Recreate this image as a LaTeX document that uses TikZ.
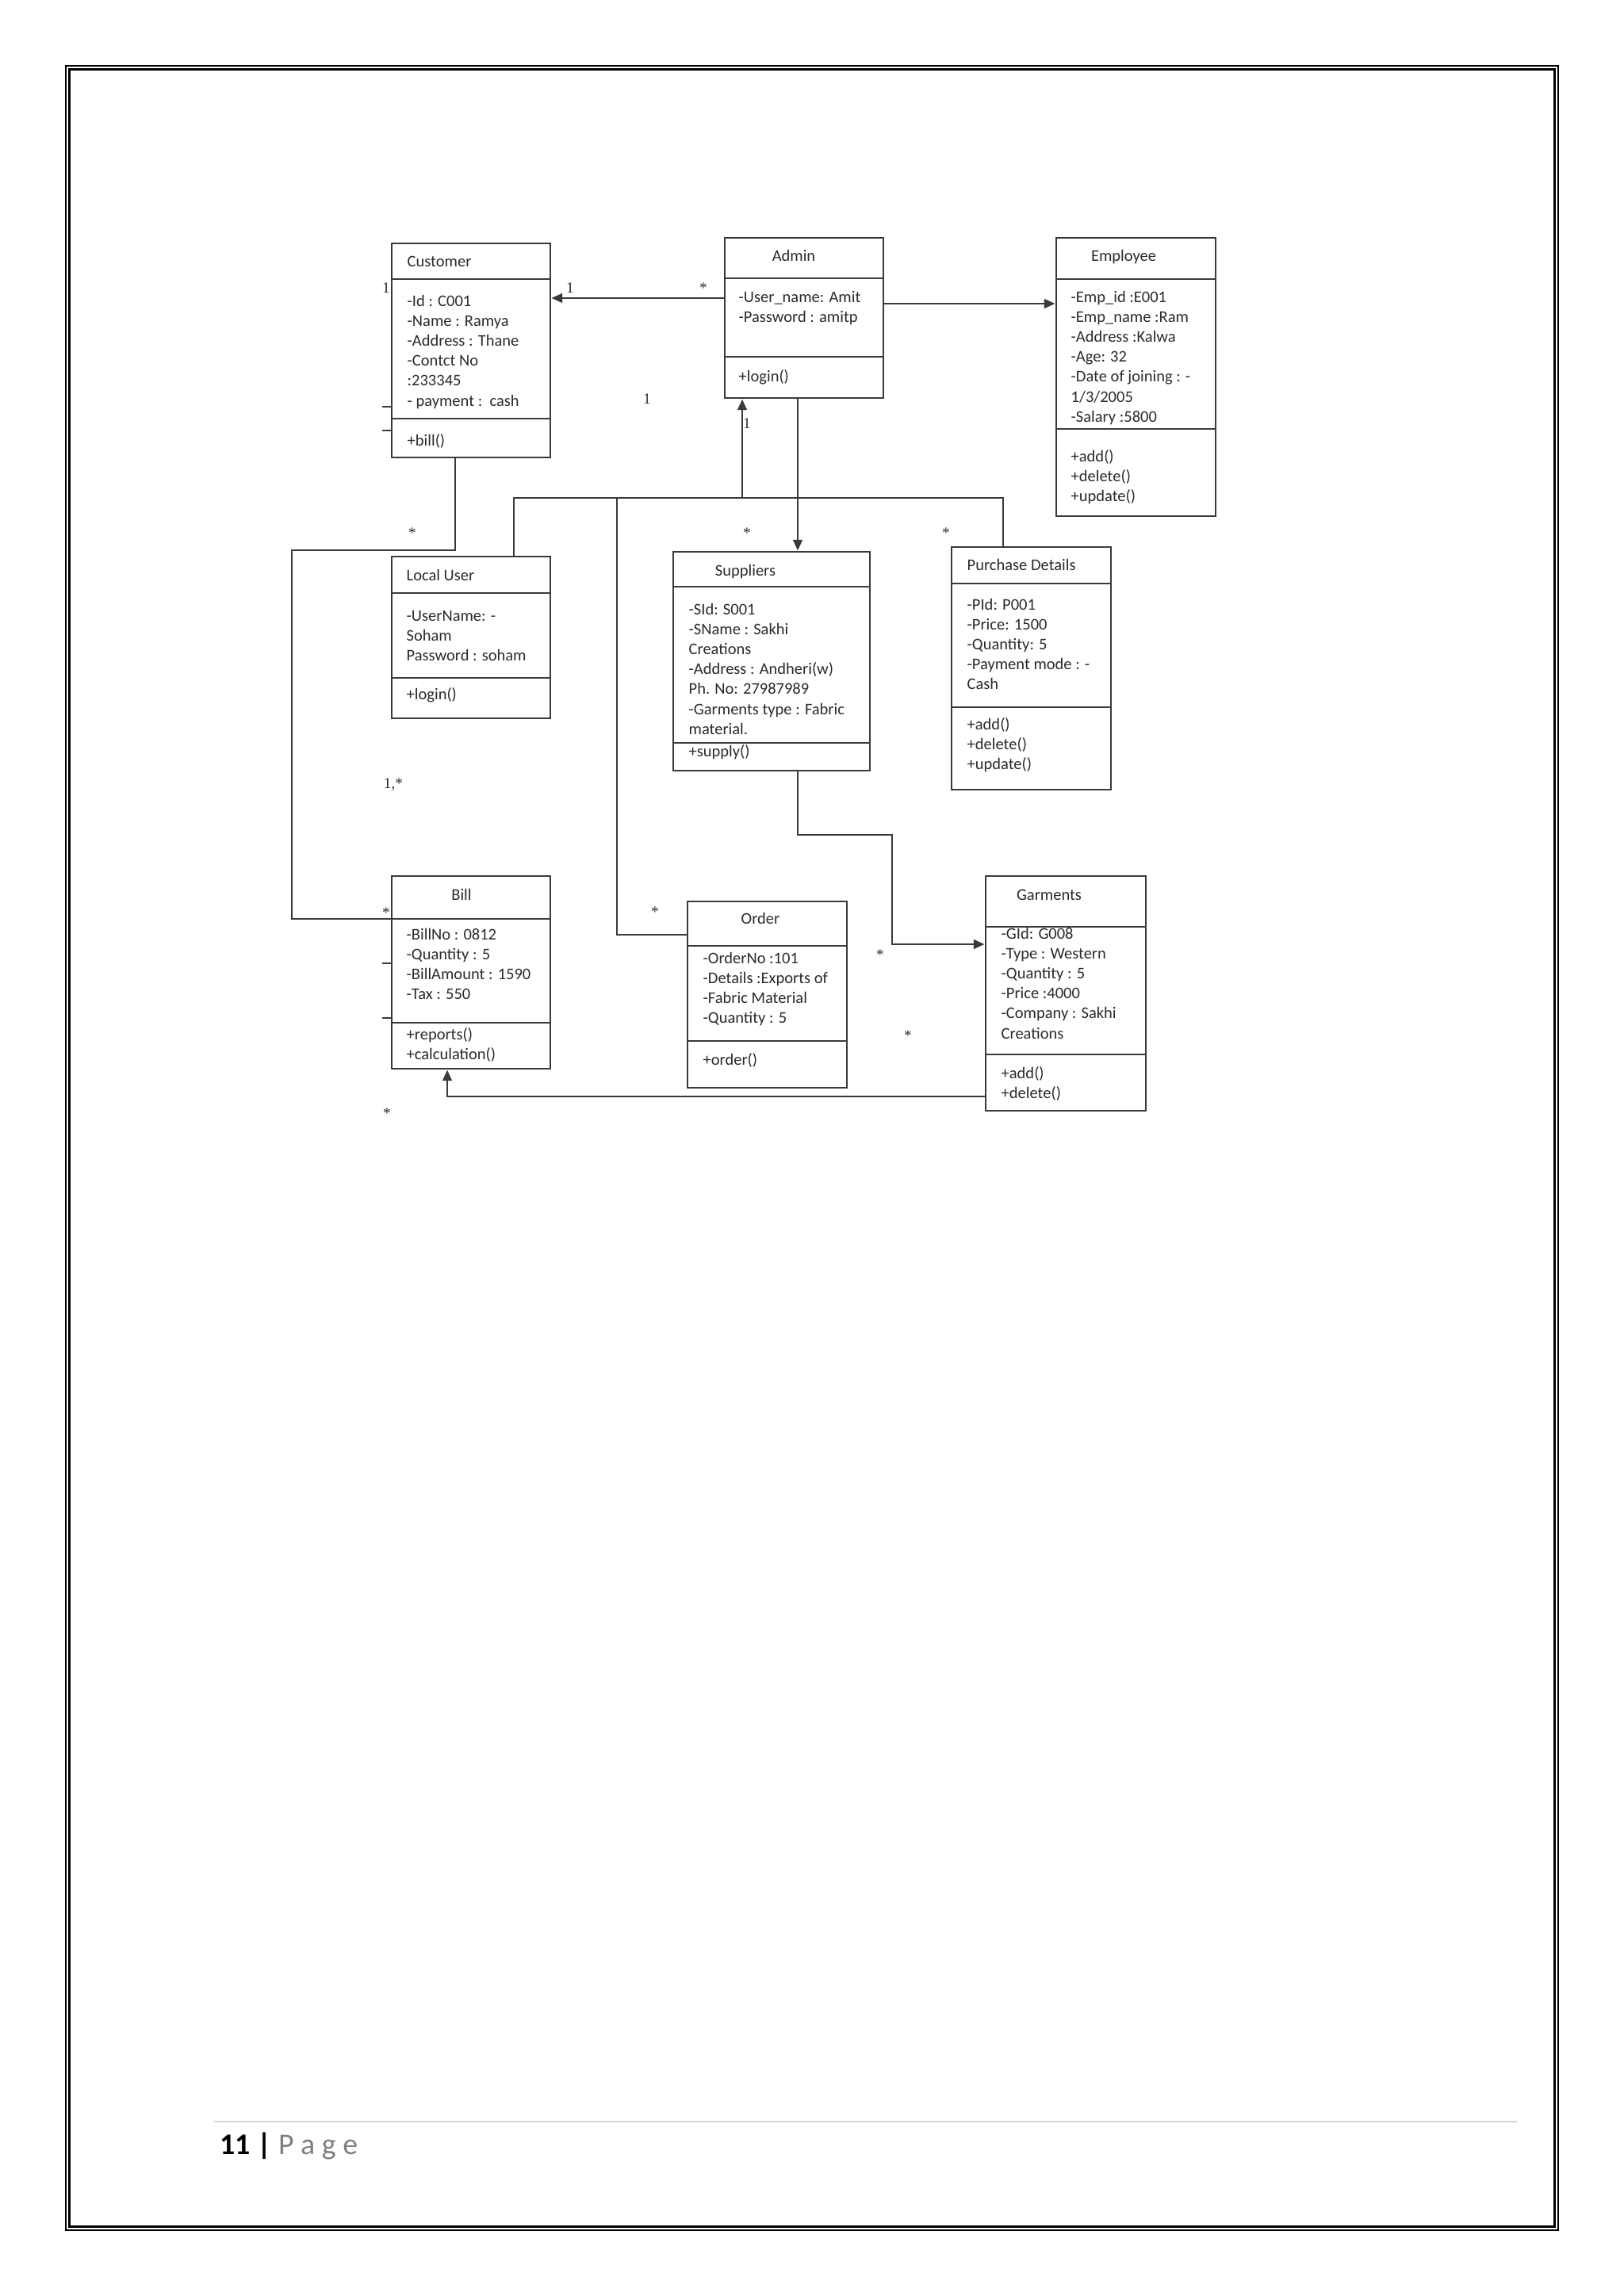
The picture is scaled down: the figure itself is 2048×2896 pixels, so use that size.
\documentclass[tikz,border=0pt]{standalone}
\usepackage{fontspec}
\setmainfont{Carlito}
\newfontfamily\lblfont{Liberation Serif}
\usetikzlibrary{arrows.meta,fit}
\definecolor{ink}{HTML}{3A3A3A}
\definecolor{txtc}{HTML}{2B2B2B}
\definecolor{pagegray}{HTML}{7F7F7F}
\definecolor{rulegray}{HTML}{D4D4D4}
\newcommand\cfont{\fontsize{5.96pt}{7.33pt}\selectfont}
\newcommand\cbody[1]{\parbox[t]{90pt}{\raggedright\cfont #1}}
\begin{document}
\begin{tikzpicture}[x=0.2907pt, y=-0.2907pt,
  cbox/.style={draw=ink, line width=0.85pt, inner sep=0pt},
  divl/.style={draw=ink, line width=0.85pt},
  conn/.style={draw=ink, line width=0.75pt},
  arr/.style={conn, -{Triangle[length=4pt,width=3.4pt]}},
  ttl/.style={font=\cfont, text=txtc, inner sep=0pt},
  body/.style={anchor=base west, inner sep=0pt, text=txtc},
  lbl/.style={anchor=base, inner sep=0pt, text=txtc, font=\lblfont\fontsize{5.6pt}{6pt}\selectfont},
  tick/.style={draw=ink, line width=0.6pt}
]
\useasboundingbox (0,0) rectangle (2048,2896);
\fill[white] (0,0) rectangle (2048,2896);
% page border
\draw[black, line width=0.35pt] (83,83) rectangle (1965,2813);
\draw[black, line width=0.7pt] (87.5,87.5) rectangle (1960.5,2808.5);

% ---------- class boxes ----------
\node[cbox, fit={(494,307) (694,577)}] (cust) {};
\draw[divl] (cust.west |- 0,352) -- (cust.east |- 0,352);
\draw[divl] (cust.west |- 0,528) -- (cust.east |- 0,528);
\node[ttl, anchor=base west] (custT) at (513,336) {Customer};
\node[body] (custA) at (513,386) {\cbody{-Id : C001\\-Name : Ramya\\-Address : Thane\\-Contct No\\:233345\\- payment :\ \ cash}};
\node[body] (custM) at (513,562) {\cbody{+bill()}};

\node[cbox, fit={(914,300) (1114,502)}] (admin) {};
\draw[divl] (admin.west |- 0,351) -- (admin.east |- 0,351);
\draw[divl] (admin.west |- 0,450) -- (admin.east |- 0,450);
\node[ttl, anchor=base] (adminT) at (1001,329) {Admin};
\node[body] (adminA) at (931,381) {\cbody{-User\_name: Amit\\-Password : amitp}};
\node[body] (adminM) at (931,481) {\cbody{+login()}};

\node[cbox, fit={(1332,300) (1533,651)}] (emp) {};
\draw[divl] (emp.west |- 0,352) -- (emp.east |- 0,352);
\draw[divl] (emp.west |- 0,541) -- (emp.east |- 0,541);
\node[ttl, anchor=base] (empT) at (1417,329) {Employee};
\node[body] (empA) at (1350,381) {\cbody{-Emp\_id :E001\\-Emp\_name :Ram\\-Address :Kalwa\\-Age: 32\\-Date of joining : -\\1/3/2005\\-Salary :5800}};
\node[body] (empM) at (1350,582) {\cbody{+add()\\+delete()\\+update()}};

\node[cbox, fit={(494,702) (694,906)}] (lu) {};
\draw[divl] (lu.west |- 0,748) -- (lu.east |- 0,748);
\draw[divl] (lu.west |- 0,855) -- (lu.east |- 0,855);
\node[ttl, anchor=base west] (luT) at (512,732) {Local User};
\node[body] (luA) at (512,783) {\cbody{-UserName: -\\Soham\\Password : soham}};
\node[body] (luM) at (512,882) {\cbody{+login()}};

\node[cbox, fit={(849,696) (1097,972)}] (sup) {};
\draw[divl] (sup.west |- 0,740) -- (sup.east |- 0,740);
\draw[divl] (sup.west |- 0,937) -- (sup.east |- 0,937);
\node[ttl, anchor=base] (supT) at (940,726) {Suppliers};
\node[body] (supA) at (868,775) {\cbody{-SId: S001\\-SName : Sakhi\\Creations\\-Address : Andheri(w)\\Ph. No: 27987989\\-Garments type : Fabric\\material.}};
\node[body] (supM) at (868,954) {\cbody{+supply()}};

\node[cbox, fit={(1200,690) (1401,996)}] (pd) {};
\draw[divl] (pd.west |- 0,736) -- (pd.east |- 0,736);
\draw[divl] (pd.west |- 0,892) -- (pd.east |- 0,892);
\node[ttl, anchor=base west] (pdT) at (1219,719) {Purchase Details};
\node[body] (pdA) at (1219,769) {\cbody{-PId: P001\\-Price: 1500\\-Quantity: 5\\-Payment mode : -\\Cash}};
\node[body] (pdM) at (1219,920) {\cbody{+add()\\+delete()\\+update()}};

\node[cbox, fit={(494,1105) (694,1348)}] (bill) {};
\draw[divl] (bill.west |- 0,1159) -- (bill.east |- 0,1159);
\draw[divl] (bill.west |- 0,1290) -- (bill.east |- 0,1290);
\node[ttl, anchor=base] (billT) at (582,1135) {Bill};
\node[body] (billA) at (512,1185) {\cbody{-BillNo : 0812\\-Quantity : 5\\-BillAmount : 1590\\-Tax : 550}};
\node[body] (billM) at (512,1311) {\cbody{+reports()\\+calculation()}};

\node[cbox, fit={(867,1137) (1068,1372)}] (order) {};
\draw[divl] (order.west |- 0,1193) -- (order.east |- 0,1193);
\draw[divl] (order.west |- 0,1313) -- (order.east |- 0,1313);
\node[ttl, anchor=base] (orderT) at (959,1165) {Order};
\node[body] (orderA) at (886,1215) {\cbody{-OrderNo :101\\-Details :Exports of\\-Fabric Material\\-Quantity : 5}};
\node[body] (orderM) at (886,1343) {\cbody{+order()}};

\node[cbox, fit={(1243,1105) (1445,1401)}] (garm) {};
\draw[divl] (garm.west |- 0,1169) -- (garm.east |- 0,1169);
\draw[divl] (garm.west |- 0,1330) -- (garm.east |- 0,1330);
\node[ttl, anchor=base] (garmT) at (1323,1135) {Garments};
\node[body] (garmA) at (1262,1184) {\cbody{-GId: G008\\-Type : Western\\-Quantity : 5\\-Price :4000\\-Company : Sakhi\\Creations}};
\node[body] (garmM) at (1262,1360) {\cbody{+add()\\+delete()}};

% ---------- connectors ----------
\draw[arr] (admin.west |- 0,376) -- (cust.east |- 0,376);
\draw[arr] (admin.east |- 0,383) -- (emp.west |- 0,383);

\coordinate (busL) at (648,628);
\coordinate (busO) at (778,628);
\coordinate (busA) at (936,628);
\coordinate (busR) at (1265,628);
\draw[conn] (lu.north -| busL) -- (busL) -- (busR) -- (pd.north -| busR);
\draw[arr] (busA) -- (admin.south -| busA);
\draw[conn] (busO) |- (order.west |- 0,1179);
\draw[arr] (admin.south -| 1006,0) -- (sup.north -| 1006,0);

\coordinate (cb1) at (574,694);
\coordinate (cb2) at (368,694);
\coordinate (cb3) at (368,1159);
\draw[conn] (cust.south -| cb1) -- (cb1) -- (cb2) -- (cb3) -- (bill.west |- cb3);

\coordinate (sg1) at (1006,1053);
\coordinate (sg2) at (1125,1053);
\coordinate (sg3) at (1125,1191);
\draw[arr] (sup.south -| sg1) -- (sg1) -- (sg2) -- (sg3) -- (garm.west |- sg3);

\coordinate (gb1) at (564,1383);
\draw[arr] (garm.west |- gb1) -- (gb1) -- (bill.south -| gb1);

% stray ticks
\draw[tick] (482,513) -- (cust.west |- 0,513);
\draw[tick] (482,543) -- (cust.west |- 0,543);
\draw[tick] (482,1215) -- (bill.west |- 0,1215);
\draw[tick] (482,1284) -- (bill.west |- 0,1284);

% ---------- multiplicity labels ----------
\node[lbl] (m1) at (487,369) {1};
\node[lbl] (m2) at (719,369) {1};
\node[lbl] (m3) at (887,369) {*};
\node[lbl] (m4) at (816,509) {1};
\node[lbl] (m5) at (942,540) {1};
\node[lbl] (m6) at (520,678) {*};
\node[lbl] (m7) at (942,678) {*};
\node[lbl] (m8) at (1193,678) {*};
\node[lbl] (m9) at (496,994) {1,*};
\node[lbl] (m10) at (487,1157) {*};
\node[lbl] (m11) at (826,1156) {*};
\node[lbl] (m12) at (1110,1210) {*};
\node[lbl] (m13) at (1145,1312) {*};
\node[lbl] (m14) at (488,1410) {*};

% ---------- footer ----------
\draw[rulegray, line width=0.6pt] (270,2676) -- (1913,2676);
\node[anchor=base west, inner sep=0pt, font=\fontsize{11pt}{13pt}\selectfont] (foot) at (277,2717) {\textbf{11 |} \textcolor{pagegray}{P a g e}};
\end{tikzpicture}
\end{document}
